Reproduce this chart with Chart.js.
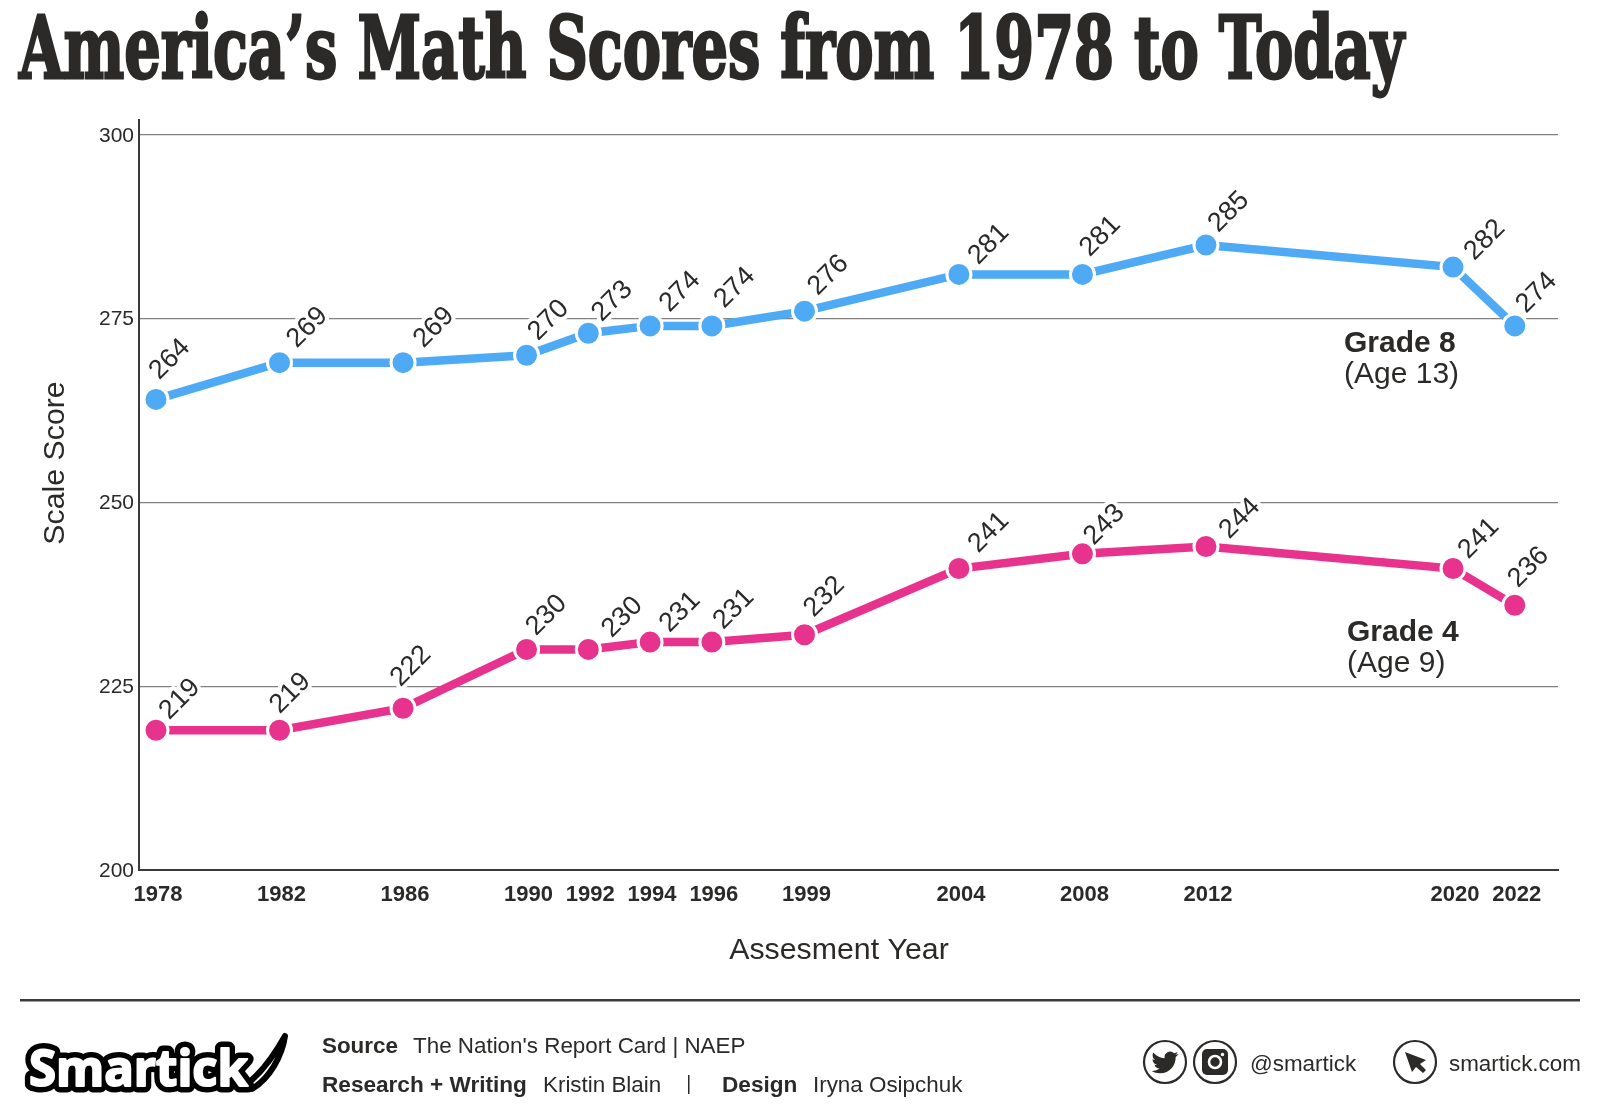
<!DOCTYPE html>
<html>
<head>
<meta charset="utf-8">
<title>America's Math Scores</title>
<script src="https://cdn.jsdelivr.net/npm/chart.js@4/dist/chart.umd.min.js"></script>
<style>
  html, body { margin: 0; padding: 0; background: #fff; }
  #page { position: relative; width: 1600px; height: 1117px; overflow: hidden; }
  #scores { position: absolute; left: 0; top: 0; }
  #overlay { position: absolute; left: 0; top: 0; }
  #overlay text { font-family: "Liberation Sans", Arial, sans-serif; fill: #2b2a29; }
</style>
</head>
<body>
<div id="page">
  <canvas id="scores" width="1600" height="970"></canvas>
  <svg id="overlay" width="1600" height="1117" viewBox="0 0 1600 1117">
    <!-- heading, squeezed and thickened to the fat condensed look -->
    <text x="19" y="78" textLength="1385" lengthAdjust="spacingAndGlyphs"
          style="font-family:'DejaVu Serif',serif;font-weight:700;font-size:86px;stroke:#2b2a29;stroke-width:2.8px">America’s Math Scores from 1978 to Today</text>

    <rect x="20" y="999" width="1560" height="2.5" fill="#3a3a3a"/>

    <!-- logo -->
    <path d="M244 1086 C262 1074 276 1052 285 1036 C282 1056 270 1078 252 1089 Z" fill="#fff" stroke="#000" stroke-width="6" stroke-linejoin="round"/>
    <text x="29" y="1086" textLength="219" lengthAdjust="spacingAndGlyphs"
          style="font-family:'Open Sans',sans-serif;font-weight:700;font-size:50px;fill:#000;stroke:#000;stroke-width:13px;stroke-linejoin:round">Smartick</text>
    <text x="29" y="1086" textLength="219" lengthAdjust="spacingAndGlyphs"
          style="font-family:'Open Sans',sans-serif;font-weight:700;font-size:50px;fill:#fff;stroke:#fff;stroke-width:2px;stroke-linejoin:round">Smartick</text>

    <!-- credits -->
    <text x="322" y="1053" style="font-size:22.4px;font-weight:700">Source</text>
    <text x="413" y="1053" style="font-size:22.4px">The Nation's Report Card | NAEP</text>
    <text x="322" y="1092" style="font-size:22.6px;font-weight:700">Research + Writing</text>
    <text x="543" y="1092" style="font-size:22.4px">Kristin Blain</text>
    <rect x="688" y="1075" width="1.5" height="19" fill="#2b2a29"/>
    <text x="722" y="1092" style="font-size:22.6px;font-weight:700">Design</text>
    <text x="813" y="1092" style="font-size:22.4px">Iryna Osipchuk</text>

    <!-- social icons -->
    <circle cx="1165" cy="1062" r="21" fill="none" stroke="#2b2a29" stroke-width="2.2"/>
    <path transform="translate(1151.5 1049) scale(1.12)" fill="#2b2a29" d="M23.953 4.57a10 10 0 01-2.825.775 4.958 4.958 0 002.163-2.723c-.951.555-2.005.959-3.127 1.184a4.92 4.92 0 00-8.384 4.482C7.69 8.095 4.067 6.13 1.64 3.162a4.822 4.822 0 00-.666 2.475c0 1.71.87 3.213 2.188 4.096a4.904 4.904 0 01-2.228-.616v.06a4.923 4.923 0 003.946 4.827 4.996 4.996 0 01-2.212.085 4.936 4.936 0 004.604 3.417 9.867 9.867 0 01-6.102 2.105c-.39 0-.779-.023-1.17-.067a13.995 13.995 0 007.557 2.209c9.053 0 13.998-7.496 13.998-13.985 0-.21 0-.42-.015-.63A9.935 9.935 0 0024 4.59z"/>
    <circle cx="1215" cy="1062" r="21" fill="none" stroke="#2b2a29" stroke-width="2.2"/>
    <rect x="1202" y="1049" width="26" height="26" rx="5" fill="#2b2a29"/>
    <circle cx="1215" cy="1062" r="6" fill="none" stroke="#fff" stroke-width="2.6"/>
    <circle cx="1222.5" cy="1054.5" r="1.7" fill="#fff"/>
    <text x="1250" y="1071" style="font-size:22.4px">@smartick</text>
    <circle cx="1415" cy="1062" r="21" fill="none" stroke="#2b2a29" stroke-width="2.2"/>
    <path d="M1405 1052 L1426 1060 L1420 1064 L1426 1070 L1423 1073 L1416 1067 L1412 1072 Z" fill="#2b2a29"/>
    <text x="1449" y="1071" style="font-size:22.4px">smartick.com</text>
  </svg>
</div>

<script>
const years = [1978, 1982, 1986, 1990, 1992, 1994, 1996, 1999, 2004, 2008, 2012, 2020, 2022];
const grade8 = [264, 269, 269, 270, 273, 274, 274, 276, 281, 281, 285, 282, 274];
const grade4 = [219, 219, 222, 230, 230, 231, 231, 232, 241, 243, 244, 241, 236];
const yTicks = [200, 225, 250, 275, 300];

// nudges for the rotated value labels, [dx, dy] from each point
const grade8Nudge = [[14, -40], [28, -35], [31, -35], [22, -35], [24, -32], [30, -34], [23, -38], [24, -36], [30, -30], [18, -38], [23, -33], [32, -27], [22, -33]];
const grade4Nudge = [[24, -31], [11, -37], [8, -42], [20, -34], [34, -32], [30, -30], [22, -33], [20, -38], [30, -36], [22, -29], [34, -28], [26, -30], [14, -38]];

const INK = '#2b2a29';
const BLUE = '#4eaaf5';
const PINK = '#e8338e';

function toPoints(values) {
    return values.map((v, i) => ({ x: years[i], y: v }));
}

function seriesStyle(color) {
    return {
        borderColor: color,
        backgroundColor: color,
        borderWidth: 8.5,
        tension: 0,
        pointRadius: 12,
        pointHoverRadius: 12,
        pointBackgroundColor: color,
        pointBorderColor: '#fff',
        pointBorderWidth: 3,
        clip: false
    };
}

// value labels go under the lines, with a white halo that breaks the grid lines
const valueLabels = {
    id: 'valueLabels',
    beforeDatasetsDraw(chart) {
        const { ctx } = chart;
        const nudges = [grade8Nudge, grade4Nudge];
        const passes = ['halo', 'text'];
        ctx.save();
        ctx.font = '27px "Liberation Sans", Arial, sans-serif';
        ctx.textAlign = 'center';
        ctx.textBaseline = 'middle';
        ctx.lineJoin = 'round';
        passes.forEach(pass => {
            chart.data.datasets.forEach((ds, d) => {
                chart.getDatasetMeta(d).data.forEach((pt, i) => {
                    ctx.save();
                    ctx.translate(pt.x + nudges[d][i][0], pt.y + nudges[d][i][1]);
                    ctx.rotate(-Math.PI / 4);
                    if (pass === 'halo') {
                        ctx.strokeStyle = '#fff';
                        ctx.lineWidth = 8;
                        ctx.strokeText(String(ds.data[i].y), 0, 0);
                    } else {
                        ctx.fillStyle = INK;
                        ctx.fillText(String(ds.data[i].y), 0, 0);
                    }
                    ctx.restore();
                });
            });
        });
        ctx.restore();
    }
};

// axis titles and the two series names
const chartText = {
    id: 'chartText',
    afterDraw(chart) {
        const { ctx } = chart;
        ctx.save();
        ctx.fillStyle = INK;
        ctx.textBaseline = 'alphabetic';
        ctx.textAlign = 'left';
        ctx.font = 'bold 30px "Liberation Sans", Arial, sans-serif';
        ctx.fillText('Grade 8', 1344, 352);
        ctx.fillText('Grade 4', 1347, 641);
        ctx.font = '30px "Liberation Sans", Arial, sans-serif';
        ctx.fillText('(Age 13)', 1344, 383);
        ctx.fillText('(Age 9)', 1347, 672);

        ctx.textAlign = 'center';
        ctx.font = '30.3px "Liberation Sans", Arial, sans-serif';
        ctx.fillText('Assesment Year', 839, 959);
        ctx.translate(64, 463);
        ctx.rotate(-Math.PI / 2);
        ctx.fillText('Scale Score', 0, 0);
        ctx.restore();
    }
};

new Chart(document.getElementById('scores'), {
    type: 'line',
    data: {
        datasets: [
            { label: 'Grade 8', data: toPoints(grade8), ...seriesStyle(BLUE) },
            { label: 'Grade 4', data: toPoints(grade4), ...seriesStyle(PINK) }
        ]
    },
    options: {
        responsive: false,
        animation: false,
        layout: { padding: { top: 120, right: 42, left: 0, bottom: 0 } },
        plugins: { legend: { display: false }, title: { display: false }, tooltip: { enabled: false } },
        scales: {
            x: {
                type: 'linear',
                min: 1977.45,
                max: 2023.4,
                afterBuildTicks: scale => { scale.ticks = years.map(v => ({ value: v })); },
                afterFit: scale => { scale.height = 100; },
                grid: { display: false },
                border: { color: '#3a3a3a', width: 2 },
                ticks: {
                    autoSkip: false,
                    maxRotation: 0,
                    padding: 4,
                    labelOffset: 2,
                    color: INK,
                    font: { family: '"Liberation Sans", Arial, sans-serif', size: 22, weight: 'bold' },
                    callback: v => String(v)
                }
            },
            y: {
                min: 200,
                max: 302,
                afterBuildTicks: scale => { scale.ticks = yTicks.map(v => ({ value: v })); },
                afterFit: scale => { scale.width = 139; },
                grid: { color: '#808080', lineWidth: 1.2, drawTicks: false },
                border: { color: '#3a3a3a', width: 2 },
                ticks: {
                    padding: 5,
                    labelOffset: 1,
                    color: INK,
                    font: { family: '"Liberation Sans", Arial, sans-serif', size: 21 },
                    callback: v => String(v)
                }
            }
        }
    },
    plugins: [valueLabels, chartText]
});
</script>
</body>
</html>
